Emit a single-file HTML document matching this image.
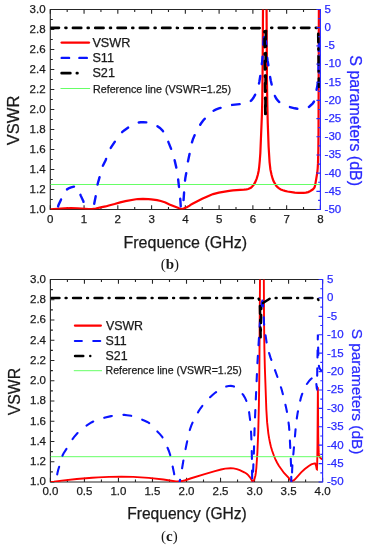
<!DOCTYPE html>
<html><head><meta charset="utf-8"><title>VSWR and S parameters</title>
<style>html,body{margin:0;padding:0;background:#fff;}svg{display:block;}</style></head>
<body><svg width="369" height="550" viewBox="0 0 369 550">
<rect width="369" height="550" fill="#fff"/>
<defs>
<clipPath id="c1"><rect x="50.3" y="9.5" width="270.1" height="200"/></clipPath>
<clipPath id="c2"><rect x="50.4" y="279.5" width="272.2" height="202.5"/></clipPath>
</defs>
<g stroke="#262626" stroke-width="1.1" fill="none">
<path d="M50.3,9.5H320.4M50.3,209.5H320.4M50.3,8.95V210.05"/>
<path d="M50.3,209.5v-4.3M50.3,9.5v4.3M84.06,209.5v-4.3M84.06,9.5v4.3M117.82,209.5v-4.3M117.82,9.5v4.3M151.59,209.5v-4.3M151.59,9.5v4.3M185.35,209.5v-4.3M185.35,9.5v4.3M219.11,209.5v-4.3M219.11,9.5v4.3M252.88,209.5v-4.3M252.88,9.5v4.3M286.64,209.5v-4.3M286.64,9.5v4.3M320.4,209.5v-4.3M320.4,9.5v4.3M67.18,209.5v-2.6M67.18,9.5v2.6M100.94,209.5v-2.6M100.94,9.5v2.6M134.71,209.5v-2.6M134.71,9.5v2.6M168.47,209.5v-2.6M168.47,9.5v2.6M202.23,209.5v-2.6M202.23,9.5v2.6M235.99,209.5v-2.6M235.99,9.5v2.6M269.76,209.5v-2.6M269.76,9.5v2.6M303.52,209.5v-2.6M303.52,9.5v2.6M50.3,209.5h4.0M50.3,199.5h2.5M50.3,189.5h4.0M50.3,179.5h2.5M50.3,169.5h4.0M50.3,159.5h2.5M50.3,149.5h4.0M50.3,139.5h2.5M50.3,129.5h4.0M50.3,119.5h2.5M50.3,109.5h4.0M50.3,99.5h2.5M50.3,89.5h4.0M50.3,79.5h2.5M50.3,69.5h4.0M50.3,59.5h2.5M50.3,49.5h4.0M50.3,39.5h2.5M50.3,29.5h4.0M50.3,19.5h2.5M50.3,9.5h4.0"/>
</g>
<g clip-path="url(#c1)" fill="none">
<path d="M50.3,209.44L64.39,208.39L71.15,208.22L77.54,208.23L88.75,209.17L92.67,208.95L95.73,208.53L101.72,207.16L105.68,206.43L108.83,205.45L114.59,204.02L120.22,202.36L125.4,201.2L136.03,199.22L137.92,199.05L142.91,198.92L148.36,199.06L151.24,199.3L157.05,200.18L160.83,201.01L165.43,202.43L169.48,204.47L179.11,208.23L181.46,209.02L182.13,209.09L183.75,208.58L184.83,207.98L186.77,207.26L189.65,205.69L190.91,204.67L192.53,203.69L202.21,198.78L209.64,195.42L213.11,194.09L218.83,192.68L229.23,190.85L233.01,190.43L243.95,189.7L246.52,189.39L248.23,188.97L249.8,188.38L250.84,187.74L252.01,186.71L253.67,184.8L255.21,182.16L256.69,178.64L257.82,174.84L258.63,170.95L259.17,167.05L259.75,161.03L260.34,153L261.91,114.95L262.27,101.04L262.72,59.03L263.04,-0.5L266.46,-0.5L266.51,0.24L266.96,80.61L267.32,104.71L267.77,123.35L268.62,146.7L269.57,162.08L270.42,169.63L271.59,174.96L272.63,178.69L273.48,181.11L276.23,185.76L277.54,187.18L279.07,188.4L280.82,189.4L282.94,190.28L284.97,190.9L287.53,191.48L294.78,192.61L298.29,192.91L303.61,192.88L305.9,192.63L308.15,192.11L309.95,191.25L312.7,189.53L313.69,188.59L314.5,187.43L315.18,185.1L317.25,172.78L317.7,168.26L317.97,163.65L318.33,150.05L318.51,131.97L318.91,-0.5L320.4,-0.5" stroke="#ff0000" stroke-width="2.20"/>
<line x1="50.3" x2="320.4" y1="184.5" y2="184.5" stroke="#66ff66" stroke-width="1"/>
<path d="M56.78,211.53L57.5,208.22L58.63,204.81L60.84,199.96L63.36,193.97L64.84,191.29L65.56,190.51L66.78,189.5L69.17,188.06L71.1,187.33L75.6,186.23L76.14,186.37L76.82,186.86L77.49,187.52L77.99,188.33L78.76,190.12L80.74,195.64L83.35,201.27L84.47,204.91L85.55,211.64" stroke="#0a14ff" stroke-width="2.4" stroke-linecap="round" stroke-dasharray="7.60,11.90" stroke-dashoffset="14.25"/>
<path d="M93.03,211.51L94.11,204.3L95.73,196.09L97.08,186.5L97.85,183.22L99.51,177.42L101.22,170.12L102.57,166.4L105.63,160.21L108.38,152.54L110.05,149.14L111.71,146.42L118.96,135.6L120.81,133.41L123.78,130.73L127.92,127.77L133.32,124.38L135.49,123.23L136.7,122.78L137.83,122.53L140.84,122.24L143.32,122.16L148.05,122.5L150.34,122.96L153.45,124.13L157.32,126.14L159.93,128L162.32,130.29L164.93,133.6L165.61,134.66L166.19,135.9L168.62,142.67L171.46,149.76L172.59,153.03L174.66,160.4L176.59,168.74L177.22,172.36L177.99,178.02L179.74,193.44L180.33,200.08L181.14,212.1" stroke="#0a14ff" stroke-width="2.4" stroke-linecap="round" stroke-dasharray="7.60,11.90" stroke-dashoffset="11.62"/>
<path d="M182.76,211.72L184.79,182.4L185.37,177.91L186.63,170.82L187.8,162.13L189.65,153.4L190.73,146.95L191.32,144.42L192.89,139.37L195.32,133.49L196.99,130.1L198.79,126.92L201,123.48L203.16,120.53L205.54,117.78L208.7,114.53L210.99,112.5L213.11,110.99L215.67,109.68L218.78,108.45L224.32,106.72L228.55,105.59L232.6,104.85L244.26,103.67L247.06,103.1L248.95,102.33L250.25,101.53L251.6,100.18L253.27,98.04L255.07,94.86L257.05,90.31L258.49,85.76L259.35,81.73L260.29,75.79L261.42,66.71L262.18,61.59L262.68,55.12L263.4,41.96L264.34,33.89L264.75,31.91L264.93,31.46L265.11,31.32" stroke="#0a14ff" stroke-width="2.4" stroke-linecap="round" stroke-dasharray="7.60,11.90" stroke-dashoffset="7.87"/>
<path d="M265.11,31.32L265.38,32.62L265.7,36.17L267.05,56.61L267.59,60.74L268.94,68.58L269.7,74.83L270.74,80.43L272.81,89.33L273.8,92.95L274.93,95.94L276.23,98.54L277.94,100.75L280.01,102.68L282.58,104.37L285.19,105.6L288.52,106.73L294.74,108.31L298.07,108.81L304.15,108.72L305.86,108.36L307.75,107.68L309.46,106.49L312.61,103.57L313.74,102.07L314.64,100.23L315.13,98.02L316.26,91.27L317.25,86.54L317.88,81.81L318.42,71.8L318.82,51.43L319.18,42.1L319.36,39.51L319.72,37.04L320.08,35.44L320.4,34.95" stroke="#0a14ff" stroke-width="2.4" stroke-linecap="round" stroke-dasharray="7.60,11.90" stroke-dashoffset="12.45"/>
<path d="M50.3,27.86L259.63,28.05L263,28.59L264.52,31.32L265.43,118.23" stroke="#000" stroke-width="2.7" stroke-linecap="round" stroke-dasharray="8.3,6.5,0.9,6.6" stroke-dashoffset="21.95"/>
<path d="M265.43,118.23L265.87,31.32L268.07,28.41L271.44,27.86L317.02,27.86L318.21,29.86L319.05,87.68L320.4,87.68" stroke="#000" stroke-width="2.7" stroke-linecap="round" stroke-dasharray="8.3,6.5,0.9,6.6" stroke-dashoffset="10.19"/>
</g>
<path d="M320.4,8.95V210.05M320.4,9.5h-4.0M320.4,18.59h-2.3M320.4,27.68h-4.0M320.4,36.77h-2.3M320.4,45.86h-4.0M320.4,54.95h-2.3M320.4,64.05h-4.0M320.4,73.14h-2.3M320.4,82.23h-4.0M320.4,91.32h-2.3M320.4,100.41h-4.0M320.4,109.5h-2.3M320.4,118.59h-4.0M320.4,127.68h-2.3M320.4,136.77h-4.0M320.4,145.86h-2.3M320.4,154.95h-4.0M320.4,164.05h-2.3M320.4,173.14h-4.0M320.4,182.23h-2.3M320.4,191.32h-4.0M320.4,200.41h-2.3M320.4,209.5h-4.0" stroke="#2a2aff" stroke-width="1.15" fill="none"/>
<g font-family="'Liberation Sans', Arial, sans-serif" stroke-width="0.25">
<text x="45.6" y="212.9" text-anchor="end" font-size="11.5" fill="#1a1a1a" stroke="#1a1a1a">1.0</text>
<text x="45.6" y="192.9" text-anchor="end" font-size="11.5" fill="#1a1a1a" stroke="#1a1a1a">1.2</text>
<text x="45.6" y="172.9" text-anchor="end" font-size="11.5" fill="#1a1a1a" stroke="#1a1a1a">1.4</text>
<text x="45.6" y="152.9" text-anchor="end" font-size="11.5" fill="#1a1a1a" stroke="#1a1a1a">1.6</text>
<text x="45.6" y="132.9" text-anchor="end" font-size="11.5" fill="#1a1a1a" stroke="#1a1a1a">1.8</text>
<text x="45.6" y="112.9" text-anchor="end" font-size="11.5" fill="#1a1a1a" stroke="#1a1a1a">2.0</text>
<text x="45.6" y="92.9" text-anchor="end" font-size="11.5" fill="#1a1a1a" stroke="#1a1a1a">2.2</text>
<text x="45.6" y="72.9" text-anchor="end" font-size="11.5" fill="#1a1a1a" stroke="#1a1a1a">2.4</text>
<text x="45.6" y="52.9" text-anchor="end" font-size="11.5" fill="#1a1a1a" stroke="#1a1a1a">2.6</text>
<text x="45.6" y="32.9" text-anchor="end" font-size="11.5" fill="#1a1a1a" stroke="#1a1a1a">2.8</text>
<text x="45.6" y="12.9" text-anchor="end" font-size="11.5" fill="#1a1a1a" stroke="#1a1a1a">3.0</text>
<text x="324.6" y="12.9" font-size="11.5" fill="#2a2aff" stroke="#2a2aff">5</text>
<text x="324.6" y="31.08" font-size="11.5" fill="#2a2aff" stroke="#2a2aff">0</text>
<text x="324.6" y="49.26" font-size="11.5" fill="#2a2aff" stroke="#2a2aff">-5</text>
<text x="324.6" y="67.45" font-size="11.5" fill="#2a2aff" stroke="#2a2aff">-10</text>
<text x="324.6" y="85.63" font-size="11.5" fill="#2a2aff" stroke="#2a2aff">-15</text>
<text x="324.6" y="103.81" font-size="11.5" fill="#2a2aff" stroke="#2a2aff">-20</text>
<text x="324.6" y="121.99" font-size="11.5" fill="#2a2aff" stroke="#2a2aff">-25</text>
<text x="324.6" y="140.17" font-size="11.5" fill="#2a2aff" stroke="#2a2aff">-30</text>
<text x="324.6" y="158.35" font-size="11.5" fill="#2a2aff" stroke="#2a2aff">-35</text>
<text x="324.6" y="176.54" font-size="11.5" fill="#2a2aff" stroke="#2a2aff">-40</text>
<text x="324.6" y="194.72" font-size="11.5" fill="#2a2aff" stroke="#2a2aff">-45</text>
<text x="324.6" y="212.9" font-size="11.5" fill="#2a2aff" stroke="#2a2aff">-50</text>
<text x="50.3" y="223.2" text-anchor="middle" font-size="11.5" fill="#1a1a1a" stroke="#1a1a1a">0</text>
<text x="84.06" y="223.2" text-anchor="middle" font-size="11.5" fill="#1a1a1a" stroke="#1a1a1a">1</text>
<text x="117.82" y="223.2" text-anchor="middle" font-size="11.5" fill="#1a1a1a" stroke="#1a1a1a">2</text>
<text x="151.59" y="223.2" text-anchor="middle" font-size="11.5" fill="#1a1a1a" stroke="#1a1a1a">3</text>
<text x="185.35" y="223.2" text-anchor="middle" font-size="11.5" fill="#1a1a1a" stroke="#1a1a1a">4</text>
<text x="219.11" y="223.2" text-anchor="middle" font-size="11.5" fill="#1a1a1a" stroke="#1a1a1a">5</text>
<text x="252.88" y="223.2" text-anchor="middle" font-size="11.5" fill="#1a1a1a" stroke="#1a1a1a">6</text>
<text x="286.64" y="223.2" text-anchor="middle" font-size="11.5" fill="#1a1a1a" stroke="#1a1a1a">7</text>
<text x="320.4" y="223.2" text-anchor="middle" font-size="11.5" fill="#1a1a1a" stroke="#1a1a1a">8</text>
</g>
<line x1="61.7" x2="88.89999999999999" y1="42.6" y2="42.6" stroke="#ff0000" stroke-width="2.4" stroke-linecap="round"/>
<line x1="60.5" x2="90.1" y1="57.9" y2="57.9" stroke="#0a14ff" stroke-width="2.4" stroke-linecap="round" stroke-dasharray="7.40,10.30" stroke-dashoffset="-1.2"/>
<line x1="61.65" x2="77.45" y1="73.2" y2="73.2" stroke="#000" stroke-width="2.7" stroke-linecap="round" stroke-dasharray="8.7,6.5,0.6,30"/>
<line x1="60.5" x2="90.1" y1="88.5" y2="88.5" stroke="#66ff66" stroke-width="1"/>
<g font-family="'Liberation Sans', Arial, sans-serif" fill="#1a1a1a" stroke="#1a1a1a" stroke-width="0.25">
<text x="92.4" y="47.1" font-size="12.7">VSWR</text>
<text x="92.4" y="62.2" font-size="12.7">S11</text>
<text x="92.4" y="77.3" font-size="12.7">S21</text>
<text x="93.0" y="92.6" font-size="10.7">Reference line (VSWR=1.25)</text>
<text x="123.5" y="247.7" font-size="16">Frequence (GHz)</text>
<text transform="translate(18.6,120.4) rotate(-90)" text-anchor="middle" font-size="16.5">VSWR</text>
<text transform="translate(350.2,120.7) rotate(90)" text-anchor="middle" font-size="16" fill="#2a2aff" stroke="#2a2aff">S parameters (dB)</text>
</g>
<text x="169.9" y="268.6" text-anchor="middle" font-family="'Liberation Serif', serif" font-size="15" fill="#1a1a1a">(<tspan font-weight="bold">b</tspan>)</text>
<g stroke="#262626" stroke-width="1.1" fill="none">
<path d="M50.4,279.5H322.6M50.4,482H322.6M50.4,278.95V482.55"/>
<path d="M50.4,482v-4.3M50.4,279.5v4.3M84.43,482v-4.3M84.43,279.5v4.3M118.45,482v-4.3M118.45,279.5v4.3M152.48,482v-4.3M152.48,279.5v4.3M186.5,482v-4.3M186.5,279.5v4.3M220.53,482v-4.3M220.53,279.5v4.3M254.55,482v-4.3M254.55,279.5v4.3M288.58,482v-4.3M288.58,279.5v4.3M322.6,482v-4.3M322.6,279.5v4.3M67.41,482v-2.6M67.41,279.5v2.6M101.44,482v-2.6M101.44,279.5v2.6M135.46,482v-2.6M135.46,279.5v2.6M169.49,482v-2.6M169.49,279.5v2.6M203.51,482v-2.6M203.51,279.5v2.6M237.54,482v-2.6M237.54,279.5v2.6M271.56,482v-2.6M271.56,279.5v2.6M305.59,482v-2.6M305.59,279.5v2.6M50.4,482h4.0M50.4,471.88h2.5M50.4,461.75h4.0M50.4,451.62h2.5M50.4,441.5h4.0M50.4,431.38h2.5M50.4,421.25h4.0M50.4,411.12h2.5M50.4,401h4.0M50.4,390.88h2.5M50.4,380.75h4.0M50.4,370.62h2.5M50.4,360.5h4.0M50.4,350.38h2.5M50.4,340.25h4.0M50.4,330.12h2.5M50.4,320h4.0M50.4,309.88h2.5M50.4,299.75h4.0M50.4,289.62h2.5M50.4,279.5h4.0"/>
</g>
<g clip-path="url(#c2)" fill="none">
<path d="M50.4,481.94L54.08,481.72L61.79,480.59L76.81,479.07L92.19,477.73L98.27,477.35L109.11,476.92L121.46,476.63L133.21,476.87L148.73,477.83L163.43,479.48L175.95,481.48L178.17,481.5L181.85,481.06L185.34,480.25L191.15,478.25L204.67,474.12L214.93,471.07L221.05,469.46L225.18,468.61L230.58,468.19L233.49,468.42L236.89,469.09L239.75,470.16L244.28,472.29L246.69,473.79L248.19,475.08L250.5,478L251.5,479.72L252.32,481.47L252.59,481.41L253.68,480.61L254.18,479.74L255.36,475.77L255.85,472.67L256.35,468L257.4,452.33L258.26,431.15L258.89,405.55L259.3,378.12L260.07,269.5L263.79,269.5L264.02,318.45L264.38,348.07L264.88,368.6L266.34,409.56L267.11,422.14L268.33,433.33L269.1,438.18L270.06,443.08L271.01,446.97L272.14,450.73L273.96,455.77L275.32,459.06L277,462.51L278.86,465.76L284.03,472.97L288.93,478.17L290.16,479.95L291.56,481.53L291.79,481.48L292.24,480.97L293.97,480.08L294.97,479.3L301.18,472.39L304.81,468.98L308.81,465.91L311.3,464.38L313.71,463.57L314.66,463.41L315.11,463.46L315.48,464.14L316.16,466.25L316.7,468.95L316.84,469.36L316.97,469.43L317.2,463.53L317.47,445.18L317.88,387.28L318.24,436.56L318.43,445.23L318.74,452.64L318.97,454.93L319.33,456.2L319.74,457.11L320.29,457.81L321.28,458.67L321.96,459.07L322.6,459.21" stroke="#ff0000" stroke-width="1.90"/>
<line x1="50.4" x2="322.6" y1="456.69" y2="456.69" stroke="#66ff66" stroke-width="1"/>
<path d="M56.16,484.06L56.98,475.84L57.57,472.4L58.25,469.69L59.88,464.49L61.38,458.37L62.02,456.51L63.51,453.48L66.51,448.87L70.82,441.36L73.99,437.07L77.31,433.26L81.39,429.39L85.75,425.99L91.37,422.46L95.86,420.22L98.04,419.42L100.72,418.64L111.11,416.15L117.83,415.1L121.91,414.81L124.31,414.89L127.04,415.17L131.8,415.91L133.39,416.28L135.93,417.14L144.1,420.45L147.32,421.94L149.23,423.11L150.99,424.65L155.67,429.78L159.93,434.09L161.79,436.27L163.47,438.69L164.88,441.5L168.78,450.73L170.28,455.16L174.14,473.65L175.41,484.04" stroke="#0a14ff" stroke-width="2.1" stroke-linecap="round" stroke-dasharray="7.90,11.60" stroke-dashoffset="9.82"/>
<path d="M179.17,484.12L181.53,471.71L183.3,461.04L185.07,451.43L186.7,443.43L189.2,432.37L190.02,429.26L191.38,425.43L192.88,421.89L194.64,418.31L198.55,411.35L200.36,408.55L202.18,406.04L204.49,403.15L206.9,400.43L209.3,397.97L212.25,395.21L214.56,393.23L216.7,391.62L220.64,389.03L222.96,387.71L224.41,387.07L225.77,386.65L228.72,386.07L230.85,385.91L233.17,386.3L236.16,387.45L238.16,388.93L240.43,391.3L243.24,394.92L245.06,397.95L246.83,402.05L247.55,404.2L248,406.05L249.14,412.47L250,419.02L250.59,425.22L251.14,433.78L251.54,443.01L251.86,454.86L252.27,485.73" stroke="#0a14ff" stroke-width="2.1" stroke-linecap="round" stroke-dasharray="7.90,11.60" stroke-dashoffset="3.39"/>
<path d="M252.59,484.81L253.95,450.37L254.63,426.42L257.31,365.38L260.21,317.13L260.8,310.49L261.53,304.56L262.03,301.34L262.21,300.7L262.39,300.49" stroke="#0a14ff" stroke-width="2.1" stroke-linecap="round" stroke-dasharray="7.30,10.80" stroke-dashoffset="4.97"/>
<path d="M262.39,300.49L262.57,300.97L262.8,302.56L263.39,309.56L263.98,322.89L264.25,326.18L266.56,342.11L267.38,346.46L268.6,351.39L270.42,357.39L277.54,377.26L280.36,385.43L281.72,389.77L283.31,395.77L285.94,406.9L286.89,411.41L287.71,416.11L288.98,425.84L289.61,434.01L291.02,464.63L291.43,485.06" stroke="#0a14ff" stroke-width="2.1" stroke-linecap="round" stroke-dasharray="7.30,10.80" stroke-dashoffset="1.21"/>
<path d="M291.84,486.55L292.11,470.77L292.38,464.87L295.87,426.07L296.69,419.1L297.64,412.95L299.32,404.5L300.73,398.47L301.5,395.86L302.95,391.87L304.27,388.79L305.58,386.19L306.9,384.03L309.17,380.89L310.67,379.22L311.98,378.18L314.12,377.2L314.98,377.07L315.16,377.25L315.57,378.69L316.16,381.99L316.75,387.97L316.88,388.74L316.93,388.84L316.97,388.73L317.88,334.48L318.29,354.24L318.61,361.71L318.92,365.99L319.42,367.9L320.06,369.18L321.51,370.7L322.1,371.07L322.6,371.18" stroke="#0a14ff" stroke-width="2.1" stroke-linecap="round" stroke-dasharray="7.30,10.80" stroke-dashoffset="4.11"/>
<path d="M50.4,298.09L258.43,298.09L259.79,301.59L260.67,337.3" stroke="#000" stroke-width="2.5" stroke-linecap="round" stroke-dasharray="7.9,6.2,0.9,6.5" stroke-dashoffset="20.36"/>
<path d="M260.67,337.3L261.36,303.21L262.65,303.21L270.68,298.09L317.5,298.09L318.52,300.12L322.6,300.12" stroke="#000" stroke-width="2.5" stroke-linecap="round" stroke-dasharray="7.9,6.2,0.9,6.5" stroke-dashoffset="7.19"/>
</g>
<path d="M322.6,278.95V482.55M322.6,279.5h-4.0M322.6,288.7h-2.3M322.6,297.91h-4.0M322.6,307.11h-2.3M322.6,316.32h-4.0M322.6,325.52h-2.3M322.6,334.73h-4.0M322.6,343.93h-2.3M322.6,353.14h-4.0M322.6,362.34h-2.3M322.6,371.55h-4.0M322.6,380.75h-2.3M322.6,389.95h-4.0M322.6,399.16h-2.3M322.6,408.36h-4.0M322.6,417.57h-2.3M322.6,426.77h-4.0M322.6,435.98h-2.3M322.6,445.18h-4.0M322.6,454.39h-2.3M322.6,463.59h-4.0M322.6,472.8h-2.3M322.6,482h-4.0" stroke="#2a2aff" stroke-width="1.15" fill="none"/>
<g font-family="'Liberation Sans', Arial, sans-serif" stroke-width="0.25">
<text x="46" y="485.4" text-anchor="end" font-size="11.5" fill="#1a1a1a" stroke="#1a1a1a">1.0</text>
<text x="46" y="465.15" text-anchor="end" font-size="11.5" fill="#1a1a1a" stroke="#1a1a1a">1.2</text>
<text x="46" y="444.9" text-anchor="end" font-size="11.5" fill="#1a1a1a" stroke="#1a1a1a">1.4</text>
<text x="46" y="424.65" text-anchor="end" font-size="11.5" fill="#1a1a1a" stroke="#1a1a1a">1.6</text>
<text x="46" y="404.4" text-anchor="end" font-size="11.5" fill="#1a1a1a" stroke="#1a1a1a">1.8</text>
<text x="46" y="384.15" text-anchor="end" font-size="11.5" fill="#1a1a1a" stroke="#1a1a1a">2.0</text>
<text x="46" y="363.9" text-anchor="end" font-size="11.5" fill="#1a1a1a" stroke="#1a1a1a">2.2</text>
<text x="46" y="343.65" text-anchor="end" font-size="11.5" fill="#1a1a1a" stroke="#1a1a1a">2.4</text>
<text x="46" y="323.4" text-anchor="end" font-size="11.5" fill="#1a1a1a" stroke="#1a1a1a">2.6</text>
<text x="46" y="303.15" text-anchor="end" font-size="11.5" fill="#1a1a1a" stroke="#1a1a1a">2.8</text>
<text x="46" y="282.9" text-anchor="end" font-size="11.5" fill="#1a1a1a" stroke="#1a1a1a">3.0</text>
<text x="327" y="282.9" font-size="11.5" fill="#2a2aff" stroke="#2a2aff">5</text>
<text x="327" y="301.31" font-size="11.5" fill="#2a2aff" stroke="#2a2aff">0</text>
<text x="327" y="319.72" font-size="11.5" fill="#2a2aff" stroke="#2a2aff">-5</text>
<text x="327" y="338.13" font-size="11.5" fill="#2a2aff" stroke="#2a2aff">-10</text>
<text x="327" y="356.54" font-size="11.5" fill="#2a2aff" stroke="#2a2aff">-15</text>
<text x="327" y="374.95" font-size="11.5" fill="#2a2aff" stroke="#2a2aff">-20</text>
<text x="327" y="393.35" font-size="11.5" fill="#2a2aff" stroke="#2a2aff">-25</text>
<text x="327" y="411.76" font-size="11.5" fill="#2a2aff" stroke="#2a2aff">-30</text>
<text x="327" y="430.17" font-size="11.5" fill="#2a2aff" stroke="#2a2aff">-35</text>
<text x="327" y="448.58" font-size="11.5" fill="#2a2aff" stroke="#2a2aff">-40</text>
<text x="327" y="466.99" font-size="11.5" fill="#2a2aff" stroke="#2a2aff">-45</text>
<text x="327" y="485.4" font-size="11.5" fill="#2a2aff" stroke="#2a2aff">-50</text>
<text x="50.4" y="495.4" text-anchor="middle" font-size="11.5" fill="#1a1a1a" stroke="#1a1a1a">0.0</text>
<text x="84.43" y="495.4" text-anchor="middle" font-size="11.5" fill="#1a1a1a" stroke="#1a1a1a">0.5</text>
<text x="118.45" y="495.4" text-anchor="middle" font-size="11.5" fill="#1a1a1a" stroke="#1a1a1a">1.0</text>
<text x="152.48" y="495.4" text-anchor="middle" font-size="11.5" fill="#1a1a1a" stroke="#1a1a1a">1.5</text>
<text x="186.5" y="495.4" text-anchor="middle" font-size="11.5" fill="#1a1a1a" stroke="#1a1a1a">2.0</text>
<text x="220.53" y="495.4" text-anchor="middle" font-size="11.5" fill="#1a1a1a" stroke="#1a1a1a">2.5</text>
<text x="254.55" y="495.4" text-anchor="middle" font-size="11.5" fill="#1a1a1a" stroke="#1a1a1a">3.0</text>
<text x="288.58" y="495.4" text-anchor="middle" font-size="11.5" fill="#1a1a1a" stroke="#1a1a1a">3.5</text>
<text x="322.6" y="495.4" text-anchor="middle" font-size="11.5" fill="#1a1a1a" stroke="#1a1a1a">4.0</text>
</g>
<line x1="74.85" x2="100.95" y1="325.6" y2="325.6" stroke="#ff0000" stroke-width="2.1" stroke-linecap="round"/>
<line x1="73.8" x2="102" y1="341.0" y2="341.0" stroke="#0a14ff" stroke-width="2.1" stroke-linecap="round" stroke-dasharray="7.00,11.40" stroke-dashoffset="-1.05"/>
<line x1="75.05" x2="90.3" y1="356.0" y2="356.0" stroke="#000" stroke-width="2.5" stroke-linecap="round" stroke-dasharray="8.2,7.0,0.01,30"/>
<line x1="73.8" x2="102" y1="370.7" y2="370.7" stroke="#66ff66" stroke-width="1"/>
<g font-family="'Liberation Sans', Arial, sans-serif" fill="#1a1a1a" stroke="#1a1a1a" stroke-width="0.25">
<text x="105.9" y="330.4" font-size="12.4">VSWR</text>
<text x="105.5" y="345.1" font-size="12.4">S11</text>
<text x="105.5" y="359.7" font-size="12.4">S21</text>
<text x="105.6" y="374.2" font-size="10.55">Reference line (VSWR=1.25)</text>
<text x="127.2" y="518.7" font-size="15.6">Frequency (GHz)</text>
<text transform="translate(19.9,391.5) rotate(-90)" text-anchor="middle" font-size="15.8">VSWR</text>
<text transform="translate(351.6,391.5) rotate(90)" text-anchor="middle" font-size="15.4" fill="#2a2aff" stroke="#2a2aff">S parameters (dB)</text>
</g>
<text x="169.4" y="541.1" text-anchor="middle" font-family="'Liberation Serif', serif" font-size="15" fill="#1a1a1a">(<tspan font-weight="bold">c</tspan>)</text>
</svg></body></html>
